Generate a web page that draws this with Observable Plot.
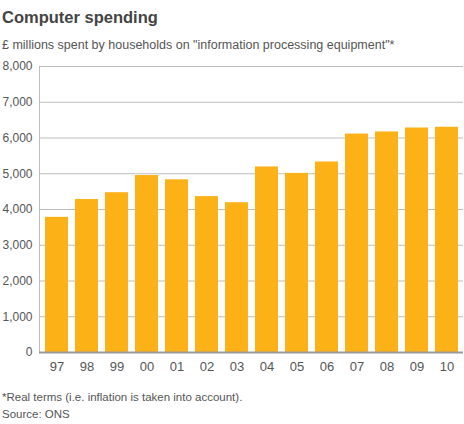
<!DOCTYPE html>
<html>
<head>
<meta charset="utf-8">
<script src="https://cdn.jsdelivr.net/npm/d3@7"></script>
<script src="https://cdn.jsdelivr.net/npm/@observablehq/plot@0.6"></script>
<style>
  html, body { margin: 0; padding: 0; background: #fff; }
  body { width: 464px; height: 424px; position: relative; overflow: hidden;
         font-family: "Liberation Sans", Arial, Helvetica, sans-serif; }
  #title { position: absolute; left: 2px; top: 8px; font-size: 16.5px; font-weight: bold; color: #444; }
  #subtitle { position: absolute; left: 2px; top: 38px; font-size: 12.5px; color: #555; }
  #chart { position: absolute; left: 0; top: 56px; }
  #note { position: absolute; left: 2px; top: 389px; font-size: 11.5px; color: #555; line-height: 16.5px; }
</style>
</head>
<body>
<div id="title">Computer spending</div>
<div id="subtitle">£ millions spent by households on "information processing equipment"*</div>
<div id="chart"></div>
<div id="note">*Real terms (i.e. inflation is taken into account).<br>Source: ONS</div>
<script>
const years = ["97","98","99","00","01","02","03","04","05","06","07","08","09","10"];
const spending = [3780, 4280, 4470, 4950, 4830, 4360, 4190, 5190, 5010, 5330, 6110, 6170, 6280, 6300];
const yTicks = [0, 1000, 2000, 3000, 4000, 5000, 6000, 7000, 8000];

const data = years.map((y, i) => ({year: y, value: spending[i]}));

const chart = Plot.plot({
  width: 464,
  height: 324,
  marginTop: 10,
  marginBottom: 28,
  marginLeft: 39,
  marginRight: 1,
  style: {fontFamily: "'Liberation Sans', Arial, sans-serif", color: "#555", background: "#fff"},
  x: {domain: years, paddingInner: 0.24, paddingOuter: 0.1, label: null},
  y: {domain: [0, 8000], label: null},
  marks: [
    Plot.gridY(yTicks, {stroke: "#bdbdbd", strokeOpacity: 1}),
    Plot.barY(data, {x: "year", y: "value", fill: "#fcb117"}),
    Plot.frame({anchor: "left", stroke: "#bdbdbd"}),
    Plot.ruleY([0], {stroke: "#999", strokeWidth: 2}),
    Plot.axisY(yTicks, {tickSize: 0, tickPadding: 7, tickFormat: d3.format(","), fontSize: 12, fill: "#555", label: null}),
    Plot.axisX({tickSize: 0, tickPadding: 9, fontSize: 13, fill: "#555", label: null})
  ]
});
document.getElementById("chart").appendChild(chart);
</script>
</body>
</html>
